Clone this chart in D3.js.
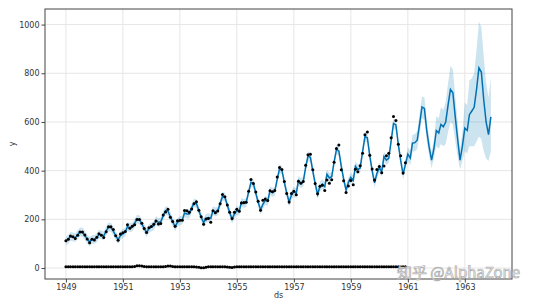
<!DOCTYPE html>
<html>
<head>
<meta charset="utf-8">
<script src="https://cdn.jsdelivr.net/npm/d3@7"></script>
<style>
  body { margin: 0; background: #fff; }
  svg text { font-family: "DejaVu Sans", sans-serif; }
</style>
</head>
<body>
<div id="chart"></div>
<script>
// monthly passengers, 1949-01 .. 1960-12
const actual = [
  112,118,132,129,121,135,148,148,136,119,104,118,
  115,126,141,135,125,149,170,170,158,133,114,140,
  145,150,178,163,172,178,199,199,184,162,146,166,
  171,180,193,181,183,218,230,242,209,191,172,194,
  196,196,236,235,229,243,264,272,237,211,180,201,
  204,188,235,227,234,264,302,293,259,229,203,229,
  242,233,267,269,270,315,364,347,312,274,237,278,
  284,277,317,313,318,374,413,405,355,306,271,306,
  315,301,356,348,355,422,465,467,404,347,305,336,
  340,318,362,348,363,435,491,505,404,359,310,337,
  360,342,406,396,420,472,548,559,463,407,362,405,
  417,391,419,461,472,535,622,606,508,461,390,432
];

// second black series sitting near zero
const lowSeries = [
  5,5,5,5,5,5,5,5,5,5,5,5,
  5,5,5,5,5,5,5,5,5,5,5,5,
  5,5,5,5,5,6,9,9,8,6,5,5,
  5,5,5,5,5,5,6,8,8,6,5,5,
  5,5,5,5,5,5,5,4,3,1,1,3,
  5,5,5,5,5,5,5,5,4,3,2,4,
  5,5,5,5,5,5,5,5,5,5,5,5,
  5,5,5,5,5,5,5,5,5,5,5,5,
  5,5,5,5,5,5,5,5,5,5,5,5,
  5,5,5,5,5,5,5,5,5,5,5,5,
  5,5,5,5,5,5,5,5,5,5,5,5,
  5,5,5,5,5,5,5,5,5,5,5,5
];

// fitted / forecast, 1949-01 .. 1963-12
const yhat = [
  111,119,130,128,125,137,149,147,134,119,107,118,
  118,124,139,136,132,152,168,167,152,133,117,133,
  141,148,170,166,168,184,201,199,182,163,146,162,
  168,174,195,188,190,215,236,234,210,190,170,188,
  195,197,226,222,222,246,268,265,236,210,186,204,
  207,204,236,231,234,265,294,291,258,228,201,222,
  236,233,271,265,270,312,352,348,307,271,238,262,
  278,274,318,310,315,363,407,402,352,309,271,300,
  314,307,359,349,354,413,460,455,398,347,303,334,
  345,334,385,370,375,436,487,480,418,365,320,352,
  372,360,418,404,411,478,540,535,461,401,350,388,
  412,396,458,443,451,522,594,588,507,442,385,426,
  468,452,513,515,525,592,662,656,562,497,443,490,
  565,555,590,580,600,670,734,720,620,530,443,500,
  575,565,630,645,660,735,822,805,690,600,548,621
];

const yhatLower = [
  93,101,112,110,107,119,131,129,116,101,89,100,
  100,106,121,118,114,134,150,149,134,115,99,115,
  123,130,152,148,150,166,183,181,164,145,128,144,
  150,156,177,170,172,197,218,216,192,172,152,170,
  177,179,208,204,204,228,250,247,218,192,168,186,
  189,186,218,213,216,247,276,273,240,210,183,204,
  218,215,253,247,252,294,334,330,289,253,220,244,
  260,256,300,292,297,345,389,384,334,291,253,282,
  294,287,339,329,334,393,440,435,378,327,283,314,
  325,314,365,350,355,416,467,460,398,345,300,332,
  352,340,398,384,391,458,520,515,441,381,330,368,
  392,376,438,423,431,502,574,568,487,422,365,406,
  440,422,478,480,488,550,615,608,520,460,410,452,
  500,490,510,500,510,560,600,590,520,460,405,440,
  480,470,500,500,500,520,540,530,480,450,440,480
];

const yhatUpper = [
  129,137,148,146,143,155,167,165,152,137,125,136,
  136,142,157,154,150,170,186,185,170,151,135,151,
  159,166,188,184,186,202,219,217,200,181,164,180,
  186,192,213,206,208,233,254,252,228,208,188,206,
  213,215,244,240,240,264,286,283,254,228,204,222,
  225,222,254,249,252,283,312,309,276,246,219,240,
  254,251,289,283,288,330,370,366,325,289,256,280,
  296,292,336,328,333,381,425,420,370,327,289,318,
  334,327,379,369,374,433,480,475,418,367,323,354,
  365,354,405,390,395,456,507,500,438,385,340,372,
  392,380,438,424,431,498,560,555,481,421,370,408,
  432,416,478,463,471,542,614,608,527,462,405,446,
  496,482,548,550,562,634,705,700,604,534,476,528,
  625,615,660,650,680,760,830,815,705,600,485,560,
  680,670,770,780,800,900,1012,990,870,760,700,780
];

const yTicks = [0, 200, 400, 600, 800, 1000];
const xTickYears = [1949, 1951, 1953, 1955, 1957, 1959, 1961, 1963];

const width = 534, height = 300;
const margin = { top: 9, right: 22, bottom: 21, left: 45 };

const svg = d3.select("#chart").append("svg")
  .attr("width", width)
  .attr("height", height);

const dates = yhat.map((_, i) => new Date(1949, i, 1));

const x = d3.scaleTime()
  .domain([new Date(1948, 3, 8), new Date(1964, 7, 28)])
  .range([margin.left, width - margin.right]);

const y = d3.scaleLinear()
  .domain([-45, 1064])
  .range([height - margin.bottom, margin.top]);

// grid
svg.append("g")
  .selectAll("line")
  .data(xTickYears)
  .join("line")
  .attr("x1", d => x(new Date(d, 0, 1)))
  .attr("x2", d => x(new Date(d, 0, 1)))
  .attr("y1", margin.top)
  .attr("y2", height - margin.bottom)
  .attr("stroke", "#e6e6e6")
  .attr("stroke-width", 1);

svg.append("g")
  .selectAll("line")
  .data(yTicks)
  .join("line")
  .attr("x1", margin.left)
  .attr("x2", width - margin.right)
  .attr("y1", d => y(d))
  .attr("y2", d => y(d))
  .attr("stroke", "#e6e6e6")
  .attr("stroke-width", 1);

// uncertainty band
svg.append("path")
  .datum(dates)
  .attr("fill", "#0072B2")
  .attr("fill-opacity", 0.2)
  .attr("d", d3.area()
    .x(d => x(d))
    .y0((d, i) => y(yhatLower[i]))
    .y1((d, i) => y(yhatUpper[i])));

// forecast line
svg.append("path")
  .datum(dates)
  .attr("fill", "none")
  .attr("stroke", "#0072B2")
  .attr("stroke-width", 1.5)
  .attr("d", d3.line()
    .x(d => x(d))
    .y((d, i) => y(yhat[i])));

// observed points
svg.append("g")
  .selectAll("circle")
  .data(actual)
  .join("circle")
  .attr("cx", (d, i) => x(dates[i]))
  .attr("cy", d => y(d))
  .attr("r", 1.5)
  .attr("fill", "#000");

svg.append("g")
  .selectAll("circle")
  .data(lowSeries)
  .join("circle")
  .attr("cx", (d, i) => x(dates[i]))
  .attr("cy", d => y(d))
  .attr("r", 1.5)
  .attr("fill", "#000");

// axes
const xAxis = svg.append("g")
  .attr("transform", `translate(0,${height - margin.bottom})`)
  .call(d3.axisBottom(x)
    .tickValues(xTickYears.map(d => new Date(d, 0, 1)))
    .tickFormat(d3.timeFormat("%Y"))
    .tickSize(3.5)
    .tickPadding(2));
xAxis.select(".domain").remove();

const yAxis = svg.append("g")
  .attr("transform", `translate(${margin.left},0)`)
  .call(d3.axisLeft(y).tickValues(yTicks).tickFormat(d3.format("d")).tickSize(3.5).tickPadding(2));
yAxis.select(".domain").remove();

svg.selectAll(".tick text")
  .attr("fill", "#333")
  .style("font-size", "8px");
svg.selectAll(".tick line").attr("stroke", "#444");

// frame
svg.append("rect")
  .attr("x", margin.left)
  .attr("y", margin.top)
  .attr("width", width - margin.left - margin.right)
  .attr("height", height - margin.top - margin.bottom)
  .attr("fill", "none")
  .attr("stroke", "#444")
  .attr("stroke-width", 1);

// axis labels
svg.append("text")
  .attr("x", (margin.left + width - margin.right) / 2)
  .attr("y", 298)
  .attr("text-anchor", "middle")
  .attr("fill", "#333")
  .style("font-size", "8px")
  .text("ds");

svg.append("text")
  .attr("transform", `translate(15,${(margin.top + height - margin.bottom) / 2}) rotate(-90)`)
  .attr("text-anchor", "middle")
  .attr("fill", "#333")
  .style("font-size", "8px")
  .text("y");

// watermark
svg.append("text")
  .attr("x", 520)
  .attr("y", 278)
  .attr("text-anchor", "end")
  .attr("fill", "#fff")
  .attr("fill-opacity", 0.85)
  .attr("stroke", "#aaa")
  .attr("stroke-width", 0.7)
  .style("font-family", "'Noto Sans CJK SC', 'Noto Sans', sans-serif")
  .style("font-size", "15px")
  .text("知乎 @AlphaZone");
</script>
</body>
</html>
